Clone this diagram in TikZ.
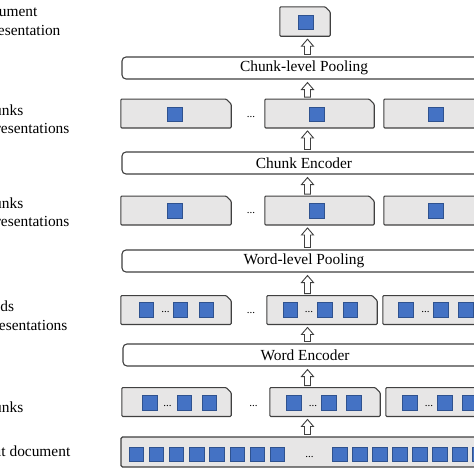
\documentclass[tikz,border=0pt]{standalone}
\usepackage{fontspec}
\setmainfont{Liberation Serif}
\usetikzlibrary{calc}
\definecolor{boxgray}{HTML}{E7E6E6}
\definecolor{edge}{HTML}{404040}
\definecolor{sqblue}{HTML}{4472C4}
\definecolor{sqedge}{HTML}{2F528F}
\newcommand\hollowup[2]{\draw[harrow] let \p1=(#1.north -| ax), \p2=(#2.south -| ax) in
  (\x1-3pt,\y1+2pt) -- (\x1-3pt,\y2-10pt) -- (\x1-6pt,\y2-10pt) -- (\x1,\y2-3pt) --
  (\x1+6pt,\y2-10pt) -- (\x1+3pt,\y2-10pt) -- (\x1+3pt,\y1+2pt) -- cycle;}
\newcommand\chbox[5][28.5pt]{\node[cboxn, minimum width=#5, minimum height=#1] (#2) at (#3,#4) {};
  \draw[cboxd] (#2.south west) -- (#2.north west) -- ([xshift=-5pt]#2.north east) --
  ([yshift=-5pt]#2.north east) -- (#2.south east) -- cycle;}
\begin{document}
\begin{tikzpicture}[x=1pt,y=-1pt,
  cboxn/.style={rectangle, inner sep=0pt},
  cboxd/.style={draw=edge, fill=boxgray, line width=1.1pt, rounded corners=1pt},
  bar/.style={draw=edge, fill=white, line width=1.1pt, rounded corners=4pt,
    minimum width=364pt, minimum height=22pt, inner sep=0pt,
    font=\fontsize{15.4}{18}\selectfont},
  sq/.style={draw=sqedge, fill=sqblue, line width=0.5pt, minimum size=14.5pt, inner sep=0pt},
  dotsn/.style={inner sep=0pt, font=\fontsize{11}{11}\selectfont},
  lab/.style={anchor=west, align=left, inner sep=0pt, font=\fontsize{15.4}{18.5}\selectfont},
  harrow/.style={draw=edge, fill=white, line width=0.9pt, line join=miter}
]
\useasboundingbox (0,0) rectangle (474,474);
\fill[white] (0,0) rectangle (474,474);
\clip (0,0) rectangle (474,474);
\coordinate (ax) at (307.5,0);

% left labels
\node[lab] (l1) at (-27,22.5) {Document\\representation};
\node[lab] (l2) at (-24,121) {Chunks\\representations};
\node[lab] (l3) at (-24,214) {Chunks\\representations};
\node[lab] (l4) at (-26,317.5) {Words\\representations};
\node[lab] (l5) at (-24,407) {Chunks};
\node[lab] (l6) at (-27,453) {Input document};

% document representation
\chbox[29pt]{doc}{305}{21.5}{50pt}
\node[sq] (docs) at (305.5,22) {};

% bars
\node[bar] (cpool) at (304,68) {Chunk-level Pooling};
\node[bar] (cenc) at (304,163) {Chunk Encoder};
\node[bar] (wpool) at (304,261) {Word-level Pooling};
\node[bar] (wenc) at (305,355) {Word Encoder};

% chunk representations (after encoder)
\chbox{c1a}{176}{113.5}{110pt}
\node[sq] (c1as) at (174.5,114) {};
\node[dotsn] (c1d) at (251,117) {...};
\chbox{c1b}{319.5}{113.5}{109pt}
\node[sq] (c1bs) at (316.5,114) {};
\chbox{c1c}{439}{113.5}{110pt}
\node[sq] (c1cs) at (435.5,114) {};

% chunk representations (after word pooling)
\chbox{c2a}{176}{210.5}{110pt}
\node[sq] (c2as) at (174.5,210.5) {};
\node[dotsn] (c2d) at (251,213.5) {...};
\chbox{c2b}{319.5}{210.5}{109pt}
\node[sq] (c2bs) at (316.5,210.5) {};
\chbox{c2c}{439}{210.5}{110pt}
\node[sq] (c2cs) at (435.5,210.5) {};

% words representations
\chbox{w1}{176}{310}{110pt}
\node[sq] (w1s1) at (146,309.5) {};
\node[dotsn] (w1d) at (165.5,312.5) {...};
\node[sq] (w1s2) at (180,309.5) {};
\node[sq] (w1s3) at (206,309.5) {};
\node[dotsn] (wd) at (251,313) {...};
\chbox{w2}{322}{310}{110pt}
\node[sq] (w2s1) at (290,309.5) {};
\node[dotsn] (w2d) at (309,312.5) {...};
\node[sq] (w2s2) at (324.5,309.5) {};
\node[sq] (w2s3) at (350,309.5) {};
\chbox{w3}{438}{310}{110pt}
\node[sq] (w3s1) at (405.5,309.5) {};
\node[dotsn] (w3d) at (425.5,312.5) {...};
\node[sq] (w3s2) at (440.5,309.5) {};
\node[sq] (w3s3) at (465.5,309.5) {};

% chunks
\chbox{k1}{176.5}{402}{109pt}
\node[sq] (k1s1) at (149.5,402.5) {};
\node[dotsn] (k1d) at (167.5,405.5) {...};
\node[sq] (k1s2) at (184,402.5) {};
\node[sq] (k1s3) at (209,402.5) {};
\node[dotsn] (kd) at (253.5,405.5) {...};
\chbox{k2}{325}{402}{110pt}
\node[sq] (k2s1) at (293.5,402.5) {};
\node[dotsn] (k2d) at (313,405.5) {...};
\node[sq] (k2s2) at (328.5,402.5) {};
\node[sq] (k2s3) at (353.5,402.5) {};
\chbox{k3}{441}{402}{110pt}
\node[sq] (k3s1) at (409.5,402.5) {};
\node[dotsn] (k3d) at (429,405.5) {...};
\node[sq] (k3s2) at (444.5,402.5) {};
\node[sq] (k3s3) at (469.5,402.5) {};

% input document
\node[draw=edge, fill=boxgray, line width=1.1pt, rounded corners=1.5pt, inner sep=0pt,
  minimum width=369pt, minimum height=30pt] (inp) at (305.5,452) {};
\foreach \i in {0,...,7} {\node[sq] (ia\i) at (136+20.2*\i,454) {};}
\node[dotsn] (id) at (309.5,457) {...};
\foreach \i in {0,...,7} {\node[sq] (ib\i) at (339.5+20*\i,454) {};}

% arrows
\hollowup{cpool}{doc}
\hollowup{c1b}{cpool}
\hollowup{cenc}{c1b}
\hollowup{c2b}{cenc}
\hollowup{wpool}{c2b}
\hollowup{w2}{wpool}
\hollowup{wenc}{w2}
\hollowup{k2}{wenc}
\hollowup{inp}{k2}
\end{tikzpicture}
\end{document}
